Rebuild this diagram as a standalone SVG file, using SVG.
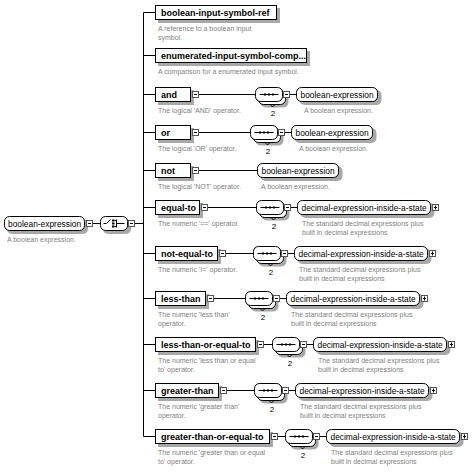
<svg xmlns="http://www.w3.org/2000/svg" width="474" height="473" viewBox="0 0 474 473">
<defs>
<style>
.bx{fill:#fff;stroke:#000;stroke-width:1}
.sh{fill:#a8a8a8}
.tg{fill:#fff;stroke:#555;stroke-width:1}
.tl{stroke:#000;stroke-width:1;fill:none}
.ln{stroke:#000;stroke-width:1;fill:none}
.nm{font-family:"Liberation Sans",Arial,sans-serif;font-size:9px;font-weight:bold;fill:#000}
.gn{font-family:"Liberation Sans",Arial,sans-serif;font-size:8.4px;fill:#000}
.ds{font-family:"Liberation Sans",Arial,sans-serif;font-size:7px;fill:#808080}
.nb{font-family:"Liberation Sans",Arial,sans-serif;font-size:8px;fill:#000;text-anchor:middle}
.dot{fill:#000}
</style>
</defs>
<rect width="474" height="473" fill="#fff"/>

<g id="connectors">
<path class="ln" d="M92.5 223.5H100.5M134.5 223.5H143.5M143.5 12.5V436.5"/>
<path class="ln" d="M143.5 12.5H155.5M143.5 55.5H155.5M143.5 94.5H155.5M143.5 132.5H155.5M143.5 170.5H155.5M143.5 207.5H155.5M143.5 253.5H155.5M143.5 298.5H155.5M143.5 344.5H155.5M143.5 390.5H155.5M143.5 436.5H155.5"/>
<path class="ln" d="M198.5 94.5H255.5M289.5 94.5H296.5"/>
<path class="ln" d="M198.5 132.5H250.5M284.5 132.5H291.5"/>
<path class="ln" d="M198.5 170.5H257.5"/>
<path class="ln" d="M207.5 207.5H256.5M290.5 207.5H297.5"/>
<path class="ln" d="M225.5 253.5H253.5M287.5 253.5H294.5"/>
<path class="ln" d="M213.5 298.5H245.5M279.5 298.5H286.5"/>
<path class="ln" d="M263.5 344.5H272.5M306.5 344.5H313.5"/>
<path class="ln" d="M226.5 390.5H254.5M288.5 390.5H295.5"/>
<path class="ln" d="M277.5 436.5H285.5M319.5 436.5H326.5"/>
</g>

<!-- root -->
<g id="root">
<rect class="sh" x="7" y="219" width="81" height="15" rx="5"/>
<rect class="bx" x="4.5" y="216.5" width="80" height="14" rx="5"/>
<text class="gn" x="8" y="226.5">boolean-expression</text>
<text class="ds" x="7" y="241.5">A boolean expression.</text>
<rect class="tg" x="86.5" y="220.5" width="6" height="6"/>
<path class="tl" d="M88 223.5H91"/>
</g>

<g id="choice">
<rect class="sh" x="103" y="219" width="28" height="15" rx="5"/>
<rect class="bx" x="100.5" y="216.5" width="27" height="14" rx="5"/>
<path class="tl" d="M103.5 223.5H106.5L110.5 219.5M116.5 219.5V227.5M116.5 223.5H124.5M114.5 220.5H116.5M114.5 226.5H116.5"/>
<rect class="dot" x="112" y="219.5" width="2.5" height="2"/>
<rect class="dot" x="112" y="222.5" width="2.5" height="2"/>
<rect class="dot" x="112" y="225.5" width="2.5" height="2"/>
<rect class="tg" x="128.5" y="220.5" width="6" height="6"/>
<path class="tl" d="M130 223.5H133"/>
</g>

<!-- row 1 -->
<g id="n-boolean-input-symbol-ref">
<rect class="sh" x="158" y="8" width="122" height="15"/>
<rect class="bx" x="155.5" y="5.5" width="121" height="14"/>
<text class="nm" x="161" y="15.8">boolean-input-symbol-ref</text>
<text class="ds" x="158" y="30.5">A reference to a boolean input</text>
<text class="ds" x="158" y="39.5">symbol.</text>
</g>

<!-- row 2 -->
<g id="n-enumerated">
<rect class="sh" x="158" y="51" width="152" height="15"/>
<rect class="bx" x="155.5" y="48.5" width="151" height="14"/>
<text class="nm" x="161" y="58.8">enumerated-input-symbol-comp...</text>
<text class="ds" x="158" y="73.5">A comparison for a enumerated input symbol.</text>
</g>

<!-- row 3 and -->
<g id="n-and">
<rect class="sh" x="158" y="90" width="36" height="15"/>
<rect class="bx" x="155.5" y="87.5" width="35" height="14"/>
<text class="nm" x="161" y="97.8">and</text>
<rect class="tg" x="192.5" y="91.5" width="6" height="6"/>
<path class="tl" d="M194 94.5H197"/>
<text class="ds" x="158" y="112.5">The logical 'AND' operator.</text>
</g>
<g id="seq-and">
<rect class="sh" x="260.5" y="92.5" width="28" height="15" rx="5"/>
<rect class="bx" x="258.5" y="90.5" width="27" height="14" rx="5"/>
<rect class="bx" x="255.5" y="87.5" width="27" height="14" rx="5"/>
<path class="tl" d="M259.5 94.5H278.5M270 104.5L272.5 107L275 104.5"/>
<rect class="dot" x="264" y="93.5" width="2" height="2"/><rect class="dot" x="268" y="93.5" width="2" height="2"/><rect class="dot" x="272" y="93.5" width="2" height="2"/>
<rect class="tg" x="283.5" y="91.5" width="6" height="6"/>
<path class="tl" d="M285 94.5H288"/>
<text class="nb" x="273" y="115.5">2</text>
</g>
<g id="g-and-boolean-expression">
<rect class="sh" x="299.5" y="90" width="82" height="15" rx="5"/>
<rect class="bx" x="296.5" y="87.5" width="81" height="14" rx="5"/>
<text class="gn" x="300.5" y="97.5">boolean-expression</text>
<text class="ds" x="304" y="112.5">A boolean expression.</text>
</g>

<!-- row 4 or -->
<g id="n-or">
<rect class="sh" x="158" y="128" width="36" height="15"/>
<rect class="bx" x="155.5" y="125.5" width="35" height="14"/>
<text class="nm" x="161" y="135.8">or</text>
<rect class="tg" x="192.5" y="129.5" width="6" height="6"/>
<path class="tl" d="M194 132.5H197"/>
<text class="ds" x="158" y="150.5">The logical 'OR' operator.</text>
</g>
<g id="seq-or">
<rect class="sh" x="255.5" y="130.5" width="28" height="15" rx="5"/>
<rect class="bx" x="253.5" y="128.5" width="27" height="14" rx="5"/>
<rect class="bx" x="250.5" y="125.5" width="27" height="14" rx="5"/>
<path class="tl" d="M254.5 132.5H273.5M265 142.5L267.5 145L270 142.5"/>
<rect class="dot" x="259" y="131.5" width="2" height="2"/><rect class="dot" x="263" y="131.5" width="2" height="2"/><rect class="dot" x="267" y="131.5" width="2" height="2"/>
<rect class="tg" x="278.5" y="129.5" width="6" height="6"/>
<path class="tl" d="M280 132.5H283"/>
<text class="nb" x="268" y="153.5">2</text>
</g>
<g id="g-or-boolean-expression">
<rect class="sh" x="294.5" y="128" width="82" height="15" rx="5"/>
<rect class="bx" x="291.5" y="125.5" width="81" height="14" rx="5"/>
<text class="gn" x="295.5" y="135.5">boolean-expression</text>
<text class="ds" x="299" y="150.5">A boolean expression.</text>
</g>

<!-- row 5 not -->
<g id="n-not">
<rect class="sh" x="158" y="166" width="36" height="15"/>
<rect class="bx" x="155.5" y="163.5" width="35" height="14"/>
<text class="nm" x="161" y="173.8">not</text>
<rect class="tg" x="192.5" y="167.5" width="6" height="6"/>
<path class="tl" d="M194 170.5H197"/>
<text class="ds" x="158" y="188.5">The logical 'NOT' operator.</text>
</g>
<g id="g-not-boolean-expression">
<rect class="sh" x="260.5" y="166" width="82" height="15" rx="5"/>
<rect class="bx" x="257.5" y="163.5" width="81" height="14" rx="5"/>
<text class="gn" x="261.5" y="173.5">boolean-expression</text>
<text class="ds" x="261" y="188.5">A boolean expression.</text>
</g>

<!-- row 6 equal-to -->
<g id="n-equal-to">
<rect class="sh" x="158" y="203" width="45" height="15"/>
<rect class="bx" x="155.5" y="200.5" width="44" height="14"/>
<text class="nm" x="161" y="210.8">equal-to</text>
<rect class="tg" x="201.5" y="204.5" width="6" height="6"/>
<path class="tl" d="M203 207.5H206"/>
<text class="ds" x="158" y="225.5">The numeric '==' operator.</text>
</g>
<g id="seq-equal-to">
<rect class="sh" x="261.5" y="205.5" width="28" height="15" rx="5"/>
<rect class="bx" x="259.5" y="203.5" width="27" height="14" rx="5"/>
<rect class="bx" x="256.5" y="200.5" width="27" height="14" rx="5"/>
<path class="tl" d="M260.5 207.5H279.5M271 217.5L273.5 220L276 217.5"/>
<rect class="dot" x="265" y="206.5" width="2" height="2"/><rect class="dot" x="269" y="206.5" width="2" height="2"/><rect class="dot" x="273" y="206.5" width="2" height="2"/>
<rect class="tg" x="284.5" y="204.5" width="6" height="6"/>
<path class="tl" d="M286 207.5H289"/>
<text class="nb" x="274" y="228.5">2</text>
</g>
<g id="g-equal-to-decimal">
<rect class="sh" x="300.5" y="203" width="134" height="15" rx="5"/>
<rect class="bx" x="297.5" y="200.5" width="133" height="14" rx="5"/>
<text class="gn" x="301.5" y="210.5">decimal-expression-inside-a-state</text>
<rect class="tg" x="432.5" y="204.5" width="6" height="6"/>
<path class="tl" d="M434 207.5H437M435.5 205.5V209.5"/>
<text class="ds" x="302" y="225.5">The standard decimal expressions plus</text>
<text class="ds" x="302" y="234.5">built in decimal expressions</text>
</g>

<!-- row 7 not-equal-to -->
<g id="n-not-equal-to">
<rect class="sh" x="158" y="249" width="63" height="15"/>
<rect class="bx" x="155.5" y="246.5" width="62" height="14"/>
<text class="nm" x="161" y="256.8">not-equal-to</text>
<rect class="tg" x="219.5" y="250.5" width="6" height="6"/>
<path class="tl" d="M221 253.5H224"/>
<text class="ds" x="158" y="271.5">The numeric '!=' operator.</text>
</g>
<g id="seq-not-equal-to">
<rect class="sh" x="258.5" y="251.5" width="28" height="15" rx="5"/>
<rect class="bx" x="256.5" y="249.5" width="27" height="14" rx="5"/>
<rect class="bx" x="253.5" y="246.5" width="27" height="14" rx="5"/>
<path class="tl" d="M257.5 253.5H276.5M268 263.5L270.5 266L273 263.5"/>
<rect class="dot" x="262" y="252.5" width="2" height="2"/><rect class="dot" x="266" y="252.5" width="2" height="2"/><rect class="dot" x="270" y="252.5" width="2" height="2"/>
<rect class="tg" x="281.5" y="250.5" width="6" height="6"/>
<path class="tl" d="M283 253.5H286"/>
<text class="nb" x="271" y="274.5">2</text>
</g>
<g id="g-not-equal-to-decimal">
<rect class="sh" x="297.5" y="249" width="134" height="15" rx="5"/>
<rect class="bx" x="294.5" y="246.5" width="133" height="14" rx="5"/>
<text class="gn" x="298.5" y="256.5">decimal-expression-inside-a-state</text>
<rect class="tg" x="429.5" y="250.5" width="6" height="6"/>
<path class="tl" d="M431 253.5H434M432.5 251.5V255.5"/>
<text class="ds" x="299" y="271.5">The standard decimal expressions plus</text>
<text class="ds" x="299" y="280.5">built in decimal expressions</text>
</g>

<!-- row 8 less-than -->
<g id="n-less-than">
<rect class="sh" x="158" y="294" width="51" height="15"/>
<rect class="bx" x="155.5" y="291.5" width="50" height="14"/>
<text class="nm" x="161" y="301.8">less-than</text>
<rect class="tg" x="207.5" y="295.5" width="6" height="6"/>
<path class="tl" d="M209 298.5H212"/>
<text class="ds" x="158" y="316.5">The numeric 'less than'</text>
<text class="ds" x="158" y="325.5">operator.</text>
</g>
<g id="seq-less-than">
<rect class="sh" x="250.5" y="296.5" width="28" height="15" rx="5"/>
<rect class="bx" x="248.5" y="294.5" width="27" height="14" rx="5"/>
<rect class="bx" x="245.5" y="291.5" width="27" height="14" rx="5"/>
<path class="tl" d="M249.5 298.5H268.5M260 308.5L262.5 311L265 308.5"/>
<rect class="dot" x="254" y="297.5" width="2" height="2"/><rect class="dot" x="258" y="297.5" width="2" height="2"/><rect class="dot" x="262" y="297.5" width="2" height="2"/>
<rect class="tg" x="273.5" y="295.5" width="6" height="6"/>
<path class="tl" d="M275 298.5H278"/>
<text class="nb" x="263" y="319.5">2</text>
</g>
<g id="g-less-than-decimal">
<rect class="sh" x="289.5" y="294" width="134" height="15" rx="5"/>
<rect class="bx" x="286.5" y="291.5" width="133" height="14" rx="5"/>
<text class="gn" x="290.5" y="301.5">decimal-expression-inside-a-state</text>
<rect class="tg" x="421.5" y="295.5" width="6" height="6"/>
<path class="tl" d="M423 298.5H426M424.5 296.5V300.5"/>
<text class="ds" x="291" y="316.5">The standard decimal expressions plus</text>
<text class="ds" x="291" y="325.5">built in decimal expressions</text>
</g>

<!-- row 9 less-than-or-equal-to -->
<g id="n-less-than-or-equal-to">
<rect class="sh" x="158" y="340" width="101" height="15"/>
<rect class="bx" x="155.5" y="337.5" width="100" height="14"/>
<text class="nm" x="161" y="347.8">less-than-or-equal-to</text>
<rect class="tg" x="257.5" y="341.5" width="6" height="6"/>
<path class="tl" d="M259 344.5H262"/>
<text class="ds" x="158" y="362.5">The numeric 'less than or equal</text>
<text class="ds" x="158" y="371.5">to' operator.</text>
</g>
<g id="seq-less-than-or-equal-to">
<rect class="sh" x="277.5" y="342.5" width="28" height="15" rx="5"/>
<rect class="bx" x="275.5" y="340.5" width="27" height="14" rx="5"/>
<rect class="bx" x="272.5" y="337.5" width="27" height="14" rx="5"/>
<path class="tl" d="M276.5 344.5H295.5M287 354.5L289.5 357L292 354.5"/>
<rect class="dot" x="281" y="343.5" width="2" height="2"/><rect class="dot" x="285" y="343.5" width="2" height="2"/><rect class="dot" x="289" y="343.5" width="2" height="2"/>
<rect class="tg" x="300.5" y="341.5" width="6" height="6"/>
<path class="tl" d="M302 344.5H305"/>
<text class="nb" x="290" y="365.5">2</text>
</g>
<g id="g-less-than-or-equal-to-decimal">
<rect class="sh" x="316.5" y="340" width="134" height="15" rx="5"/>
<rect class="bx" x="313.5" y="337.5" width="133" height="14" rx="5"/>
<text class="gn" x="317.5" y="347.5">decimal-expression-inside-a-state</text>
<rect class="tg" x="448.5" y="341.5" width="6" height="6"/>
<path class="tl" d="M450 344.5H453M451.5 342.5V346.5"/>
<text class="ds" x="318" y="362.5">The standard decimal expressions plus</text>
<text class="ds" x="318" y="371.5">built in decimal expressions</text>
</g>

<!-- row 10 greater-than -->
<g id="n-greater-than">
<rect class="sh" x="158" y="386" width="64" height="15"/>
<rect class="bx" x="155.5" y="383.5" width="63" height="14"/>
<text class="nm" x="161" y="393.8">greater-than</text>
<rect class="tg" x="220.5" y="387.5" width="6" height="6"/>
<path class="tl" d="M222 390.5H225"/>
<text class="ds" x="158" y="408.5">The numeric 'greater than'</text>
<text class="ds" x="158" y="417.5">operator.</text>
</g>
<g id="seq-greater-than">
<rect class="sh" x="259.5" y="388.5" width="28" height="15" rx="5"/>
<rect class="bx" x="257.5" y="386.5" width="27" height="14" rx="5"/>
<rect class="bx" x="254.5" y="383.5" width="27" height="14" rx="5"/>
<path class="tl" d="M258.5 390.5H277.5M269 400.5L271.5 403L274 400.5"/>
<rect class="dot" x="263" y="389.5" width="2" height="2"/><rect class="dot" x="267" y="389.5" width="2" height="2"/><rect class="dot" x="271" y="389.5" width="2" height="2"/>
<rect class="tg" x="282.5" y="387.5" width="6" height="6"/>
<path class="tl" d="M284 390.5H287"/>
<text class="nb" x="272" y="411.5">2</text>
</g>
<g id="g-greater-than-decimal">
<rect class="sh" x="298.5" y="386" width="134" height="15" rx="5"/>
<rect class="bx" x="295.5" y="383.5" width="133" height="14" rx="5"/>
<text class="gn" x="299.5" y="393.5">decimal-expression-inside-a-state</text>
<rect class="tg" x="430.5" y="387.5" width="6" height="6"/>
<path class="tl" d="M432 390.5H435M433.5 388.5V392.5"/>
<text class="ds" x="300" y="408.5">The standard decimal expressions plus</text>
<text class="ds" x="300" y="417.5">built in decimal expressions</text>
</g>

<!-- row 11 greater-than-or-equal-to -->
<g id="n-greater-than-or-equal-to">
<rect class="sh" x="158" y="432" width="115" height="15"/>
<rect class="bx" x="155.5" y="429.5" width="114" height="14"/>
<text class="nm" x="161" y="439.8">greater-than-or-equal-to</text>
<rect class="tg" x="271.5" y="433.5" width="6" height="6"/>
<path class="tl" d="M273 436.5H276"/>
<text class="ds" x="158" y="454.5">The numeric 'greater than or equal</text>
<text class="ds" x="158" y="463.5">to' operator.</text>
</g>
<g id="seq-greater-than-or-equal-to">
<rect class="sh" x="290.5" y="434.5" width="28" height="15" rx="5"/>
<rect class="bx" x="288.5" y="432.5" width="27" height="14" rx="5"/>
<rect class="bx" x="285.5" y="429.5" width="27" height="14" rx="5"/>
<path class="tl" d="M289.5 436.5H308.5M300 446.5L302.5 449L305 446.5"/>
<rect class="dot" x="294" y="435.5" width="2" height="2"/><rect class="dot" x="298" y="435.5" width="2" height="2"/><rect class="dot" x="302" y="435.5" width="2" height="2"/>
<rect class="tg" x="313.5" y="433.5" width="6" height="6"/>
<path class="tl" d="M315 436.5H318"/>
<text class="nb" x="303" y="457.5">2</text>
</g>
<g id="g-greater-than-or-equal-to-decimal">
<rect class="sh" x="329.5" y="432" width="134" height="15" rx="5"/>
<rect class="bx" x="326.5" y="429.5" width="133" height="14" rx="5"/>
<text class="gn" x="330.5" y="439.5">decimal-expression-inside-a-state</text>
<rect class="tg" x="461.5" y="433.5" width="6" height="6"/>
<path class="tl" d="M463 436.5H466M464.5 434.5V438.5"/>
<text class="ds" x="331" y="454.5">The standard decimal expressions plus</text>
<text class="ds" x="331" y="463.5">built in decimal expressions</text>
</g>
</svg>
